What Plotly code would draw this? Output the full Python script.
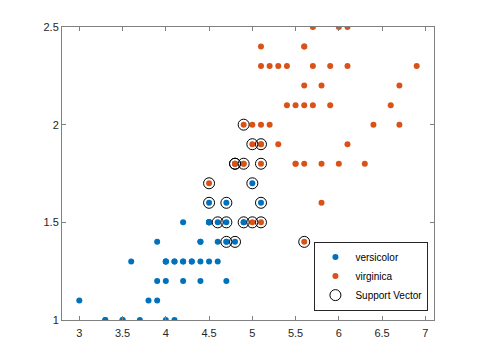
import plotly.graph_objects as go

# Petal length / petal width (Fisher iris)
versicolor_len = [4.7,4.5,4.9,4.0,4.6,4.5,4.7,3.3,4.6,3.9,3.5,4.2,4.0,4.7,3.6,4.4,4.5,4.1,4.5,3.9,
                  4.8,4.0,4.9,4.7,4.3,4.4,4.8,5.0,4.5,3.5,3.8,3.7,3.9,5.1,4.5,4.5,4.7,4.4,4.1,4.0,
                  4.4,4.6,4.0,3.3,4.2,4.2,4.2,4.3,3.0,4.1]
versicolor_wid = [1.4,1.5,1.5,1.3,1.5,1.3,1.6,1.0,1.3,1.4,1.0,1.5,1.0,1.4,1.3,1.4,1.5,1.0,1.5,1.1,
                  1.8,1.3,1.5,1.2,1.3,1.4,1.4,1.7,1.5,1.0,1.1,1.0,1.2,1.6,1.5,1.6,1.5,1.3,1.3,1.3,
                  1.2,1.4,1.2,1.0,1.3,1.2,1.3,1.3,1.1,1.3]
virginica_len = [6.0,5.1,5.9,5.6,5.8,6.6,4.5,6.3,5.8,6.1,5.1,5.3,5.5,5.0,5.1,5.3,5.5,6.7,6.9,5.0,
                 5.7,4.9,6.7,4.9,5.7,6.0,4.8,4.9,5.6,5.8,6.1,6.4,5.6,5.1,5.6,6.1,5.6,5.5,4.8,5.4,
                 5.6,5.1,5.1,5.9,5.7,5.2,5.0,5.2,5.4,5.1]
virginica_wid = [2.5,1.9,2.1,1.8,2.2,2.1,1.7,1.8,1.8,2.5,2.0,1.9,2.1,2.0,2.4,2.3,1.8,2.2,2.3,1.5,
                 2.3,2.0,2.0,1.8,2.1,1.8,1.8,1.8,2.1,1.6,1.9,2.0,2.2,1.5,1.4,2.3,2.4,1.8,1.8,2.1,
                 2.4,2.3,1.9,2.3,2.5,2.3,1.9,2.0,2.3,1.8]
sv_len = [4.9,5.0,5.1,4.8,4.9,5.1,4.5,5.0,4.5,4.7,5.1,4.6,4.7,4.9,5.0,5.1,4.7,4.8,5.6,4.8]
sv_wid = [2.0,1.9,1.9,1.8,1.8,1.8,1.7,1.7,1.6,1.6,1.6,1.5,1.5,1.5,1.5,1.5,1.4,1.4,1.4,1.8]

x_ticks = [3, 3.5, 4, 4.5, 5, 5.5, 6, 6.5, 7]
y_ticks = [1, 1.5, 2, 2.5]

fig = go.Figure()
fig.add_trace(go.Scatter(x=versicolor_len, y=versicolor_wid, mode="markers", name="versicolor",
                         marker=dict(color="#0072BD", size=6)))
fig.add_trace(go.Scatter(x=virginica_len, y=virginica_wid, mode="markers", name="virginica",
                         marker=dict(color="#D95319", size=6)))
fig.add_trace(go.Scatter(x=sv_len, y=sv_wid, mode="markers", name="Support Vector",
                         marker=dict(symbol="circle-open", color="black", size=11,
                                     line=dict(width=1, color="black"))))

axis_common = dict(showgrid=False, zeroline=False, showline=True, linecolor="#808080", linewidth=1,
                   mirror="allticks", ticks="inside", ticklen=4, tickwidth=1, tickcolor="#808080",
                   tickfont=dict(family="Liberation Sans, Arial, sans-serif", size=11, color="#262626"))
fig.update_xaxes(range=[2.8, 7.1], tickvals=x_ticks, ticktext=[str(v) for v in x_ticks],
                 ticklabelstandoff=3, **axis_common)
fig.update_yaxes(range=[1, 2.5], tickvals=y_ticks, ticktext=[str(v) for v in y_ticks], **axis_common)

# page body has an 8px margin, so the figure is 8px smaller and margins shifted
fig.update_layout(
    width=472, height=352, autosize=False,
    margin=dict(l=54, r=46, t=19, b=40),
    paper_bgcolor="white", plot_bgcolor="white",
    showlegend=True,
    legend=dict(x=0.985, y=0.032, xanchor="right", yanchor="bottom",
                bgcolor="white", bordercolor="#262626", borderwidth=1,
                font=dict(family="Liberation Sans, Arial, sans-serif", size=10, color="#000000"),
                tracegroupgap=0, itemwidth=30),
)

fig.write_html("out.html")
